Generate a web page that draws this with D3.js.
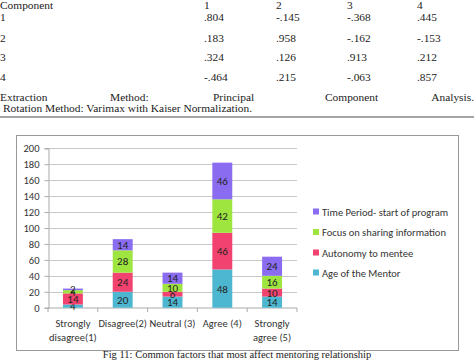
<!DOCTYPE html>
<html>
<head>
<meta charset="utf-8">
<script src="https://cdn.jsdelivr.net/npm/d3@7"></script>
<style>
  body { margin: 0; background: #fff; }
  svg { display: block; }
</style>
</head>
<body>
<svg id="fig" width="474" height="363"></svg>
<script>
// table values (rotated component matrix)
var compHeader = ["Component", "1", "2", "3", "4"]
var compRows = ["1", "2", "3", "4"]
var compValues = [
  [".804", "-.145", "-.368", ".445"],
  [".183", ".958", "-.162", "-.153"],
  [".324", ".126", ".913", ".212"],
  ["-.464", ".215", "-.063", ".857"]
]

// chart data
var categories = ["Strongly disagree(1)", "Disagree(2)", "Neutral (3)", "Agree (4)", "Strongly agree (5)"]
var catLines = [["Strongly", "disagree(1)"], ["Disagree(2)"], ["Neutral (3)"], ["Agree (4)"], ["Strongly", "agree (5)"]]
var seriesNames = ["Age of the Mentor", "Autonomy to mentee", "Focus on sharing information", "Time Period- start of program"]
var ageMentor = [4, 20, 14, 48, 14]
var autonomy = [14, 24, 6, 46, 10]
var focusSharing = [4, 28, 10, 42, 16]
var timePeriod = [2, 14, 14, 46, 24]
var yTicks = [0, 20, 40, 60, 80, 100, 120, 140, 160, 180, 200]

var colors = ["#4db7d1", "#f2426f", "#9fe53f", "#8a6cf0"]

var svg = d3.select("#fig")
var serif = "'Liberation Serif', 'Times New Roman', serif"
var sans = "Carlito, Lato, 'Open Sans', sans-serif"
var fs = 10.5

// ---- table on top ----
var colX = [0, 204, 276, 347, 417]
var rowY = [9, 21, 41.5, 61, 81]
var tbl = svg.append("g").attr("font-family", serif).attr("font-size", 11.4).attr("fill", "#222")
compHeader.forEach(function(t, i) {
  tbl.append("text").attr("x", colX[i]).attr("y", rowY[0]).text(t)
})
compRows.forEach(function(r, j) {
  tbl.append("text").attr("x", colX[0]).attr("y", rowY[j + 1]).text(r)
  compValues[j].forEach(function(v, i) {
    tbl.append("text").attr("x", colX[i + 1]).attr("y", rowY[j + 1]).text(v)
  })
})
// justified footnote line
var extWords = ["Extraction", "Method:", "Principal", "Component", "Analysis."]
var extX = [0, 110, 213, 325, 474]
extWords.forEach(function(w, i) {
  tbl.append("text").attr("x", extX[i]).attr("y", 101)
    .attr("text-anchor", i == extWords.length - 1 ? "end" : "start").text(w)
})
tbl.append("text").attr("x", 3).attr("y", 112).text("Rotation Method: Varimax with Kaiser Normalization.")
svg.append("line").attr("x1", 0).attr("x2", 474).attr("y1", 117).attr("y2", 117)
  .attr("stroke", "#888").attr("stroke-width", 1.5)

// ---- chart frame ----
svg.append("rect").attr("x", 16.5).attr("y", 135.5).attr("width", 442).attr("height", 215)
  .attr("fill", "#fff").attr("stroke", "#999").attr("stroke-width", 1)

var x = d3.scaleBand().domain(categories).range([48, 297]).paddingInner(0.6).paddingOuter(0.3)
var y = d3.scaleLinear().domain([0, 200]).range([307.7, 148.3])

// gridlines
svg.append("g").selectAll("line").data(yTicks.slice(1)).enter().append("line")
  .attr("x1", 48).attr("x2", 297)
  .attr("y1", function(d) { return Math.round(y(d)) + 0.5 })
  .attr("y2", function(d) { return Math.round(y(d)) + 0.5 })
  .attr("stroke", "#c8c8c8")

// y axis
var yAxis = svg.append("g").attr("transform", "translate(48.5,0)")
  .call(d3.axisLeft(y).tickValues(yTicks).tickSize(4).tickPadding(5))
yAxis.select(".domain").attr("stroke", "#aaa")
yAxis.selectAll(".tick line").attr("stroke", "#aaa")
yAxis.selectAll("text").attr("font-family", sans).attr("font-size", fs).attr("fill", "#333")

// x axis baseline + ticks between categories
svg.append("line").attr("x1", 48).attr("x2", 297).attr("y1", 308).attr("y2", 308).attr("stroke", "#aaa")
var step = x.step()
svg.append("g").selectAll("line").data(d3.range(categories.length + 1)).enter().append("line")
  .attr("x1", function(i) { return 48 + i * step }).attr("x2", function(i) { return 48 + i * step })
  .attr("y1", 308).attr("y2", 312).attr("stroke", "#aaa")

// stacked bars
var table = categories.map(function(c, i) {
  return { cat: c, s0: ageMentor[i], s1: autonomy[i], s2: focusSharing[i], s3: timePeriod[i] }
})
var stack = d3.stack().keys(["s0", "s1", "s2", "s3"])(table)

var layers = svg.append("g").selectAll("g").data(stack).enter().append("g")
  .attr("fill", function(d, i) { return colors[i] })
layers.selectAll("rect").data(function(d) { return d }).enter().append("rect")
  .attr("x", function(d) { return x(d.data.cat) })
  .attr("width", x.bandwidth())
  .attr("y", function(d) { return y(d[1]) })
  .attr("height", function(d) { return y(d[0]) - y(d[1]) })
layers.selectAll("text").data(function(d) { return d }).enter().append("text")
  .attr("x", function(d) { return x(d.data.cat) + x.bandwidth() / 2 })
  .attr("y", function(d) { return (y(d[0]) + y(d[1])) / 2 })
  .attr("dy", "0.36em")
  .attr("text-anchor", "middle")
  .attr("font-family", sans).attr("font-size", 11).attr("fill", "#222")
  .text(function(d) { return d[1] - d[0] })

// category labels
var xl = svg.append("g").attr("font-family", sans).attr("font-size", fs).attr("fill", "#333")
  .attr("text-anchor", "middle")
catLines.forEach(function(lines, i) {
  lines.forEach(function(l, k) {
    xl.append("text").attr("x", x(categories[i]) + x.bandwidth() / 2)
      .attr("y", 327 + k * 13.5).text(l)
  })
})

// legend (reverse order)
var legY = [212, 232.5, 253, 273]
var leg = svg.append("g")
seriesNames.slice().reverse().forEach(function(n, i) {
  var ci = seriesNames.length - 1 - i
  leg.append("rect").attr("x", 313).attr("y", legY[i] - 3.5).attr("width", 6).attr("height", 6)
    .attr("fill", colors[ci])
  leg.append("text").attr("x", 322).attr("y", legY[i]).attr("dy", "0.35em")
    .attr("font-family", sans).attr("font-size", fs).attr("fill", "#333").text(n)
})

// caption
svg.append("text").attr("x", 237).attr("y", 358).attr("text-anchor", "middle")
  .attr("font-family", serif).attr("font-size", 10.5).attr("fill", "#222")
  .text("Fig 11: Common factors that most affect mentoring relationship")
</script>
</body>
</html>
